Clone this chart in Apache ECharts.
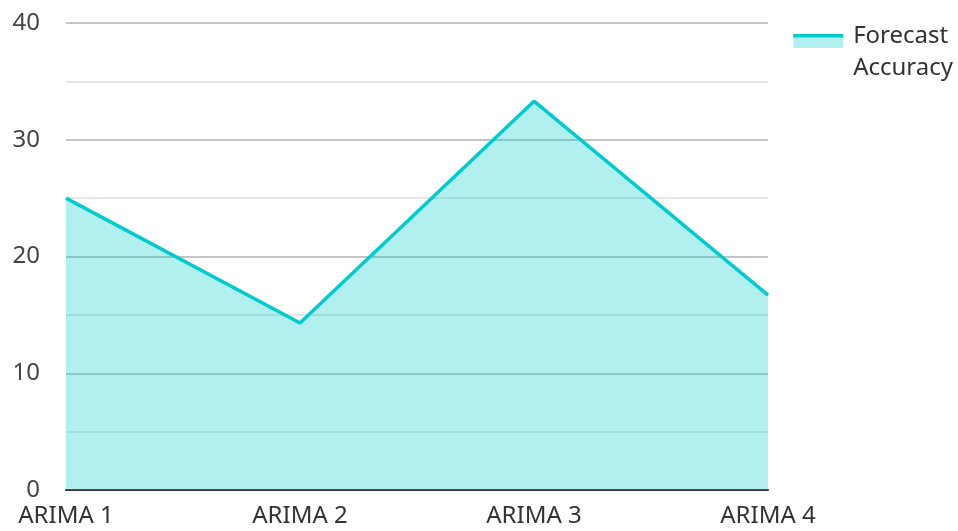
<!DOCTYPE html>
<html>
<head>
<meta charset="utf-8">
<script src="https://cdn.jsdelivr.net/npm/echarts@6/dist/echarts.min.js"></script>
<style>
  html, body { margin: 0; padding: 0; background: #fff; }
  #chart { width: 958px; height: 531px; }
</style>
</head>
<body>
<div id="chart"></div>
<script>
const categories = ["ARIMA 1", "ARIMA 2", "ARIMA 3", "ARIMA 4"];
const accuracy = [25, 14.3, 33.3, 16.7];
const seriesName = "Forecast Accuracy";

// legend swatch: line on top of a filled box, aligned with the first text line
const swatchSvg =
  '<svg xmlns="http://www.w3.org/2000/svg" width="50" height="64" viewBox="0 0 50 64">' +
  '<rect x="0" y="16" width="50" height="12" fill="#b2f0f0"/>' +
  '<rect x="0" y="14" width="50" height="3.5" fill="#00cccc"/>' +
  "</svg>";
const swatchIcon = "image://data:image/svg+xml;utf8," + encodeURIComponent(swatchSvg);

const chart = echarts.init(document.getElementById("chart"));

chart.setOption({
  animation: false,
  textStyle: { fontFamily: "Noto Sans" },
  grid: { left: 66, right: 190, top: 23, bottom: 41, containLabel: false },
  legend: {
    right: 0,
    top: 15,
    itemWidth: 50,
    itemHeight: 64,
    data: [{ name: seriesName, icon: swatchIcon }],
    formatter: (name) => name.replace(" ", "\n"),
    textStyle: { fontSize: 24, color: "#333", lineHeight: 32, padding: [0, 0, 0, 5] },
  },
  xAxis: {
    type: "category",
    data: categories,
    boundaryGap: false,
    axisLine: { lineStyle: { color: "#333", width: 2 } },
    axisTick: { show: false },
    axisLabel: { fontSize: 24, color: "#333", margin: 14 },
  },
  yAxis: {
    type: "value",
    min: 0,
    max: 40,
    interval: 10,
    axisLine: { show: false },
    axisTick: { show: false },
    axisLabel: { fontSize: 24, color: "#444", margin: 26 },
    splitLine: { lineStyle: { color: "#c4c4c4", width: 2 } },
    minorTick: { show: false, splitNumber: 2 },
    minorSplitLine: { show: true, lineStyle: { color: "#e6e6e6", width: 2 } },
  },
  series: [
    {
      name: seriesName,
      type: "line",
      data: accuracy,
      symbol: "none",
      lineStyle: { color: "#00cccc", width: 3.5 },
      itemStyle: { color: "#00cccc" },
      areaStyle: { color: "rgba(0,204,204,0.3)", opacity: 1 },
    },
  ],
});
</script>
</body>
</html>
